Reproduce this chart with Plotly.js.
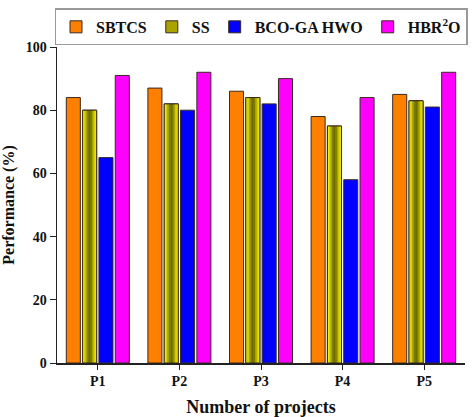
<!DOCTYPE html>
<html><head><meta charset="utf-8">
<script src="https://cdn.plot.ly/plotly-3.0.1.min.js"></script>
<style>html,body{margin:0;padding:0;background:#fff}#chart{width:474px;height:417px}</style>
</head><body><div id="chart"></div>
<script>
const categories = ['P1','P2','P3','P4','P5'];
const seriesNames = ['SBTCS','SS','BCO-GA HWO','HBR<sup>2</sup>O'];
const sbtcs = [84, 87, 86, 78, 85];
const ss = [80, 82, 84, 75, 83];
const bco = [65, 80, 82, 58, 81];
const hbr = [91, 92, 90, 84, 92];

const xs = categories.map((c,i)=>i);
const W = 0.172, SLOT = 0.2, START = -0.4 + 0.014;
const edge = {color:'#3a2a20', width:1};
const FONT = 'Liberation Serif, Times New Roman, serif';

function bar(name, y, k, color, extra){
  return Object.assign({type:'bar', name:name, x:xs, y:y, width:W, offset:START+k*SLOT,
    marker:{color:color, line:edge}, hoverinfo:'skip'}, extra||{});
}
const traces = [];
traces.push(bar(seriesNames[0], sbtcs, 0, '#ff7f00', {legendrank:1}));
traces.push(bar(seriesNames[1], ss, 1, '#a9a400', {legendrank:2}));
// gradient strips for SS
const stripCols = ['#f4f000','#d8d400','#aaa600','#807c00','#6c6800','#7e7a00','#a8a400','#d6d200','#f0ec00'];
const n = stripCols.length, sw = W/n;
stripCols.forEach((c,j)=>{
  traces.push({type:'bar', x:xs, y:ss, width:sw+0.002, offset:START+SLOT+j*sw,
    marker:{color:c, line:{width:0}}, showlegend:false, hoverinfo:'skip'});
});
traces.push(bar('', ss, 1, 'rgba(0,0,0,0)', {showlegend:false}));
traces.push(bar(seriesNames[2], bco, 2, '#0000ff', {legendrank:3}));
traces.push(bar(seriesNames[3], hbr, 3, '#ff00ff', {legendrank:4}));

const layout = {
  width:474, height:417,
  margin:{l:57, r:8, t:34, b:54},
  paper_bgcolor:'#fff', plot_bgcolor:'#fff',
  barmode:'overlay',
  font:{family:FONT, color:'#111', size:14},
  showlegend:true,
  legend:{orientation:'h', x:0.5, xanchor:'center', xref:'paper', y:1.005, yanchor:'bottom',
    bordercolor:'#999', borderwidth:1.5, font:{family:FONT, size:16, color:'#111', weight:'bold'},
    itemwidth:30, traceorder:'normal'},
  xaxis:{type:'linear', range:[-0.5,4.5], tickvals:xs, ticktext:categories,
    ticks:'outside', ticklen:5, tickcolor:'#222', showline:true, linecolor:'#222', linewidth:1.5,
    showgrid:false, zeroline:false, tickfont:{family:FONT, size:14, weight:'bold', color:'#111'},
    title:{text:'Number of projects', font:{family:FONT, size:18, weight:'bold', color:'#111'}, standoff:14}},
  yaxis:{range:[0,100], tickvals:[0,20,40,60,80,100], ticks:'outside', ticklen:6, tickcolor:'#222',
    showline:true, linecolor:'#222', linewidth:1.5, showgrid:false, zeroline:false,
    tickfont:{family:FONT, size:14, weight:'bold', color:'#111'},
    title:{text:'Performance (%)', font:{family:FONT, size:16, weight:'bold', color:'#111'}, standoff:8}},
  xaxis2:{overlaying:'x', side:'top', type:'linear', range:[-0.5,4.5], tickvals:xs, showticklabels:false,
    ticks:'inside', ticklen:5, tickcolor:'#222', showline:true, linecolor:'#222', linewidth:1.5, showgrid:false, zeroline:false},
  yaxis2:{overlaying:'y', side:'right', range:[0,100], tickvals:[0,20,40,60,80,100], showticklabels:false,
    ticks:'inside', ticklen:5, tickcolor:'#222', showline:true, linecolor:'#222', linewidth:1.5, showgrid:false, zeroline:false}
};
Plotly.newPlot('chart', traces, layout, {displayModeBar:false, staticPlot:true});
</script></body></html>
